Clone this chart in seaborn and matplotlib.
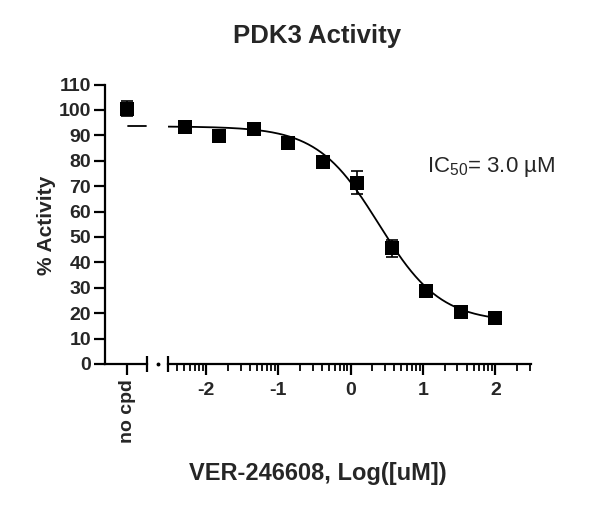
import numpy as np
import pandas as pd
import matplotlib
matplotlib.use("Agg")
import matplotlib.pyplot as plt
import seaborn as sns

# ---- data ----
log_conc = [-2.294, -1.817, -1.340, -0.863, -0.385, 0.092, 0.569, 1.046, 1.523, 2.000]
activity = [93.3, 89.8, 92.5, 87.0, 79.5, 71.3, 45.5, 28.7, 20.3, 18.0]
activity_err = [1.0, 1.0, 1.0, 1.5, 1.0, 4.5, 3.3, 1.0, 1.0, 1.0]
nocpd_label = "no cpd"
nocpd_value = 100.5
nocpd_err = 3.0
x_major = [-2, -1, 0, 1, 2]
x_major_labels = ["-2", "-1", "0", "1", "2"]
y_ticks = list(range(0, 111, 10))
# 4-parameter logistic fit parameters
fit_top, fit_bottom, fit_logic50, fit_hill = 93.5, 16.5, 0.39, 1.02
title = "PDK3 Activity"
xlabel = "VER-246608, Log([uM])"
ylabel = "% Activity"

sns.set_style("ticks")
plt.rcParams["font.family"] = ["Liberation Sans", "DejaVu Sans"]
plt.rcParams["mathtext.fontset"] = "custom"
plt.rcParams["mathtext.rm"] = "Liberation Sans"
plt.rcParams["mathtext.default"] = "regular"

W, H = 600, 508
fig = plt.figure(figsize=(W / 100, H / 100), dpi=100)

y0_px, y1_px = 364, 84.5
bottom = 1 - y0_px / H
height = (y0_px - y1_px) / H
ax1 = fig.add_axes([105 / W, bottom, (147 - 105) / W, height])
xl = (-3 + np.log10(3), 2.50)
ax2_left = 168.3
ax2_w = (xl[1] - xl[0]) * 72.3
ax2 = fig.add_axes([ax2_left / W, bottom, ax2_w / W, height], sharey=ax1)

lw = 1.6
tick_fs = 14
for ax in (ax1, ax2):
    ax.set_facecolor("none")
    for s in ("top", "right"):
        ax.spines[s].set_visible(False)
    for s in ("left", "bottom"):
        ax.spines[s].set_linewidth(lw)
        ax.spines[s].set_color("black")
    ax.tick_params(which="major", length=8, width=lw, color="black", direction="out")
    ax.tick_params(which="minor", length=5, width=lw * 0.8, color="black", direction="out")
    ax.tick_params(axis="x", which="major", pad=5)

ax1.set_ylim(0, 110)
ax1.set_yticks(y_ticks)
ax1.set_yticklabels([str(v) for v in y_ticks], fontsize=tick_fs, fontweight="bold")
ax1.tick_params(axis="y", pad=2)

# no-compound panel
xpos_nocpd = 22 / 42
ax1.set_xlim(0, 1)
ax1.set_xticks([xpos_nocpd])
ax1.set_xticklabels([nocpd_label], rotation=90, fontsize=tick_fs, fontweight="bold")
ax1.tick_params(axis="x", pad=3)
ax1.errorbar([xpos_nocpd], [nocpd_value], yerr=[nocpd_err], fmt="none",
             ecolor="black", elinewidth=1.2, capsize=4, capthick=1.2, zorder=3)
sns.scatterplot(x=[xpos_nocpd], y=[nocpd_value], marker="s", s=95, color="black",
                edgecolor="black", linewidth=0, ax=ax1, zorder=4, clip_on=False)
ax1.plot([xpos_nocpd + 0.02, 0.98], [fit_top, fit_top], color="black", lw=1.3)
ax1.plot([1.0], [0], marker="|", markersize=12, mew=lw, color="black", clip_on=False)

# concentration panel
ax2.set_xlim(*xl)
ax2.spines["left"].set_visible(False)
ax2.tick_params(axis="y", left=False, labelleft=False)
ax2.set_xticks(x_major)
ax2.set_xticklabels(x_major_labels, fontsize=tick_fs, fontweight="bold")
minors = []
for n in range(-3, 3):
    for k in range(2, 10):
        v = n + np.log10(k)
        if xl[0] + 1e-3 < v <= xl[1] + 1e-6:
            minors.append(v)
ax2.set_xticks(minors, minor=True)
ax2.plot([xl[0]], [0], marker="|", markersize=12, mew=lw, color="black", clip_on=False)
# break dot
ax2.plot([xl[0] - 10 / 72.3], [0], marker="o", markersize=1.8, color="black", clip_on=False)

xs = np.linspace(xl[0], 2.0, 300)
ys = fit_bottom + (fit_top - fit_bottom) / (1 + 10 ** ((xs - fit_logic50) * fit_hill))
curve = pd.DataFrame({"x": xs, "y": ys})
sns.lineplot(data=curve, x="x", y="y", color="black", lw=1.3, ax=ax2, zorder=2)
ax2.errorbar(log_conc, activity, yerr=activity_err, fmt="none", ecolor="black",
             elinewidth=1.2, capsize=4, capthick=1.2, zorder=3)
pts = pd.DataFrame({"x": log_conc, "y": activity})
sns.scatterplot(data=pts, x="x", y="y", marker="s", s=95, color="black",
                edgecolor="black", linewidth=0, ax=ax2, zorder=4, clip_on=False)
ax2.set_xlabel("")
ax2.set_ylabel("")
ax1.set_xlabel("")
ax1.set_ylabel("")

fig.text(427 / W, 1 - 172 / H, "IC$_{50}$= 3.0 µM", fontsize=16, ha="left", va="baseline")
fig.text(317 / W, 1 - 43 / H, title, fontsize=18.5, fontweight="bold", ha="center", va="baseline")
fig.text(318 / W, 1 - 480 / H, xlabel, fontsize=17, fontweight="bold", ha="center", va="baseline")
fig.text(47 / W, 1 - 225 / H, ylabel, fontsize=15, fontweight="bold", rotation=90,
         ha="center", va="center")

fig.savefig("out.png", dpi=100, facecolor="white")
